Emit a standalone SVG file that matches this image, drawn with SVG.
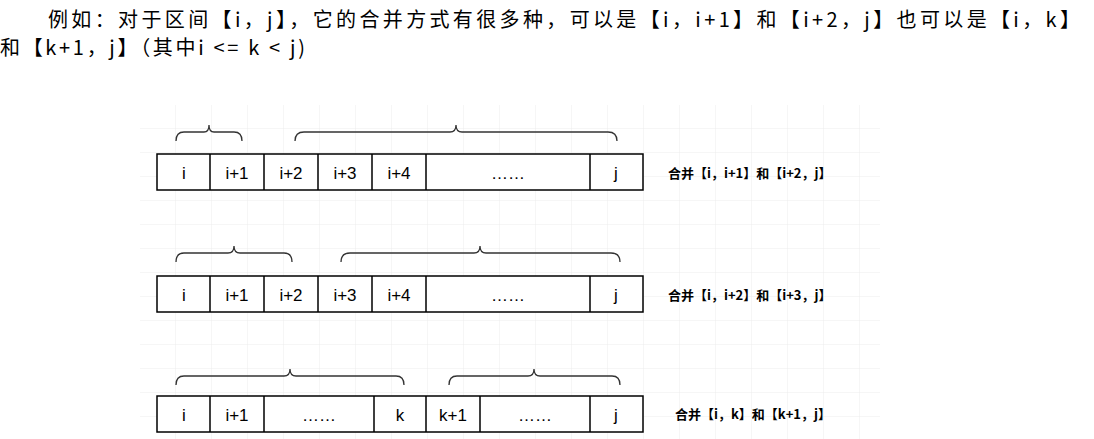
<svg xmlns="http://www.w3.org/2000/svg" width="1094" height="439" viewBox="0 0 1094 439">
<defs>
<pattern id="g" width="36" height="24" patternUnits="userSpaceOnUse" x="140" y="105"><path d="M36 0V24M0 24H36" fill="none" stroke="#ececec" stroke-width="1"/></pattern>
</defs>
<style>
.c{fill:#fff;stroke:#000;stroke-width:1.5}
.t{font-family:"Liberation Sans",Arial,sans-serif;font-size:17px;text-anchor:middle}
.b{fill:none;stroke:#333;stroke-width:1.3}
.l{font-family:"Noto Sans CJK SC",sans-serif;font-size:13px;font-weight:bold}
.h{font-family:"Noto Sans CJK SC",sans-serif;font-size:20px}
</style>
<rect width="1094" height="439" fill="#fff"/>
<rect x="140" y="105" width="740" height="334" fill="url(#g)"/>
<text class="h" x="48" y="27" textLength="1032" lengthAdjust="spacing">例如：对于区间【i，j】，它的合并方式有很多种，可以是【i，i+1】和【i+2，j】也可以是【i，k】</text>
<text class="h" x="0" y="55" textLength="305" lengthAdjust="spacing">和【k+1，j】（其中i &lt;= k &lt; j)</text>
<g id="row1">
<rect class="c" x="157" y="154" width="486" height="36"/>
<path d="M210 154V190M264 154V190M318 154V190M372 154V190M426 154V190M590 154V190" stroke="#000" stroke-width="1.5"/>
<g class="t"><text x="184" y="179">i</text><text x="237" y="179">i+1</text><text x="291" y="179">i+2</text><text x="345" y="179">i+3</text><text x="399" y="179">i+4</text><text x="508" y="179">……</text><text x="616" y="179">j</text></g>
<text class="l" x="668" y="178">合并【i，i+1】和【i+2，j】</text>
</g>
<g id="row2">
<rect class="c" x="157" y="276" width="486" height="36"/>
<path d="M210 276V312M264 276V312M318 276V312M372 276V312M426 276V312M590 276V312" stroke="#000" stroke-width="1.5"/>
<g class="t"><text x="184" y="301">i</text><text x="237" y="301">i+1</text><text x="291" y="301">i+2</text><text x="345" y="301">i+3</text><text x="399" y="301">i+4</text><text x="508" y="301">……</text><text x="616" y="301">j</text></g>
<text class="l" x="668" y="300">合并【i，i+2】和【i+3，j】</text>
</g>
<g id="row3">
<rect class="c" x="157" y="396" width="486" height="36"/>
<path d="M210 396V432M264 396V432M374 396V432M426 396V432M480 396V432M590 396V432" stroke="#000" stroke-width="1.5"/>
<g class="t"><text x="184" y="421">i</text><text x="237" y="421">i+1</text><text x="319" y="421">……</text><text x="400" y="421">k</text><text x="453" y="421">k+1</text><text x="535" y="421">……</text><text x="616" y="421">j</text></g>
<text class="l" x="675" y="419">合并【i，k】和【k+1，j】</text>
</g>
<g id="braces">
<path class="b" d="M176 141Q176 132 184 132H204Q209 132 209 125Q209 132 214 132H234Q242 132 242 141"/>
<path class="b" d="M295 141Q295 132 304 132H450Q456 132 456 125Q456 132 462 132H608Q617 132 617 141"/>
<path class="b" d="M176 262Q176 253 184 253H228Q234 253 234 246Q234 253 240 253H284Q292 253 292 262"/>
<path class="b" d="M341 262Q341 253 350 253H474Q480 253 480 246Q480 253 486 253H611Q620 253 620 262"/>
<path class="b" d="M176 385Q176 376 184 376H284Q290 376 290 369Q290 376 296 376H396Q404 376 404 385"/>
<path class="b" d="M449 385Q449 376 457 376H528Q534 376 534 369Q534 376 540 376H612Q620 376 620 385"/>
</g>
</svg>
